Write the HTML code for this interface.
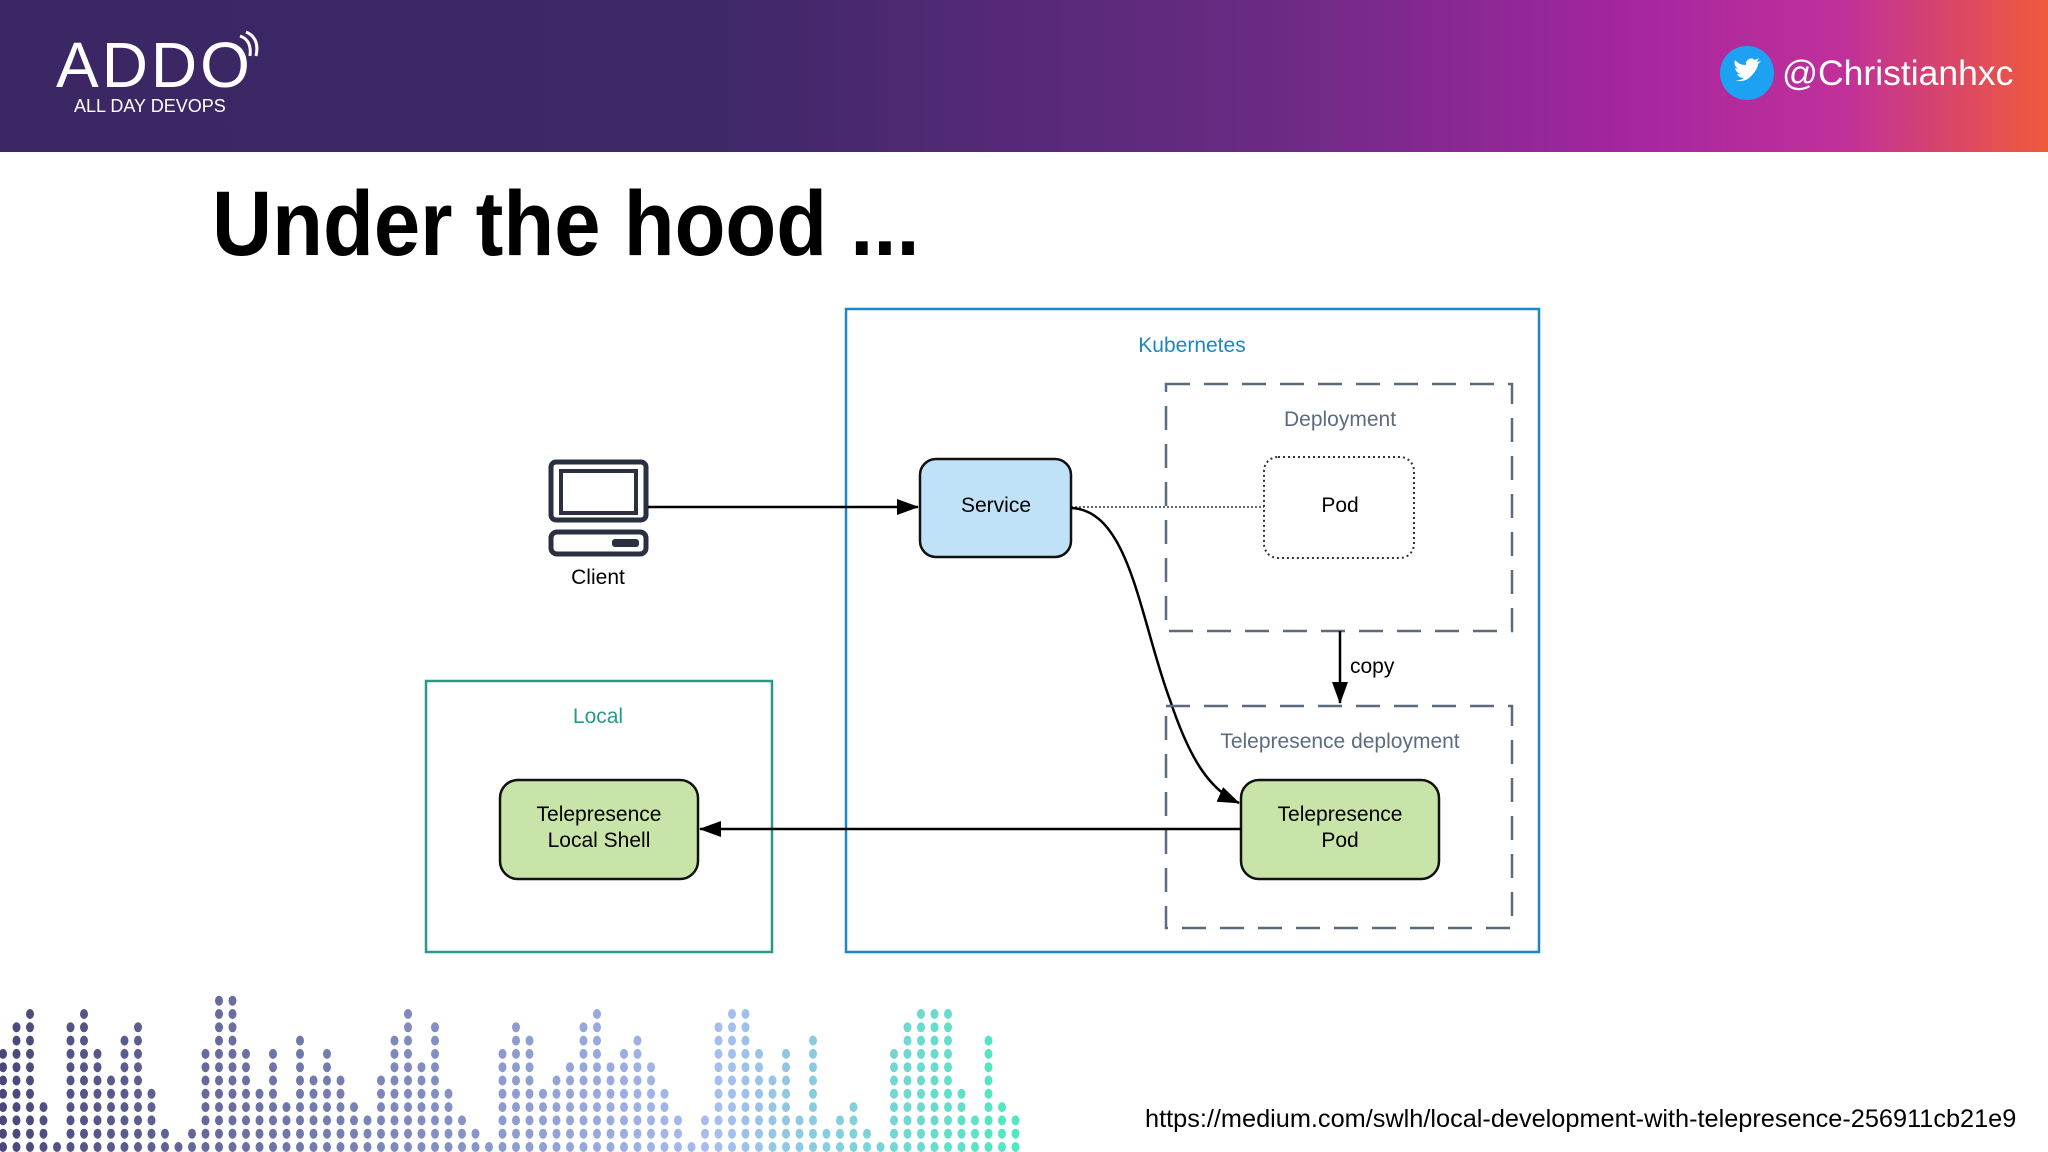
<!DOCTYPE html>
<html><head><meta charset="utf-8"><style>
html,body{margin:0;padding:0;background:#fff}
body{width:2048px;height:1152px;position:relative;overflow:hidden;font-family:"Liberation Sans",sans-serif}
.hdr{position:absolute;left:0;top:0;width:2048px;height:152px;background:linear-gradient(90deg,#3b2764 0%,#3e2868 35%,#6a2a84 62%,#a626a0 80%,#c0309a 90%,#f05a3c 100%)}
.t{position:absolute;white-space:nowrap}
</style></head><body>
<div class="hdr"></div>
<div class="t" style="left:56px;top:28px;color:#fff;font-size:64px;letter-spacing:3px;font-weight:300">ADDO</div>
<svg style="position:absolute;left:236px;top:30px" width="30" height="30"><path d="M4 6 Q16 10 14 26" stroke="#fff" stroke-width="3" fill="none"/><path d="M10 2 Q24 8 20 26" stroke="#fff" stroke-width="3" fill="none"/></svg>
<div class="t" style="left:74px;top:96px;color:#fff;font-size:18px">ALL DAY DEVOPS</div>
<svg style="position:absolute;left:1718px;top:44px" width="58" height="58"><circle cx="29" cy="29" r="27" fill="#1da1f2"/><path d="M17 36 Q27 40 35 30 Q40 24 40 20 L43 17 L39 18 L41 14 L37 16 Q32 12 28 18 L28 21 Q21 21 17 16 Q15 21 20 25 L17 24 Q18 29 23 30 L19 30 Q21 34 26 34 Q22 37 17 36Z" fill="#fff"/></svg>
<div class="t" style="left:1782px;top:53px;color:#fff;font-size:35.5px">@Christianhxc</div>
<div class="t" style="left:212px;top:172px;color:#000;font-size:92px;font-weight:bold;transform:scaleX(0.905);transform-origin:0 0">Under the hood ...</div>

<svg style="position:absolute;left:0;top:0" width="2048" height="1152">
<defs><marker id="ah2" markerWidth="22" markerHeight="16" refX="21" refY="8" orient="auto" markerUnits="userSpaceOnUse"><path d="M0 0 L22 8 L0 16Z" fill="#000"/></marker></defs>
<rect x="846" y="309" width="693" height="643" fill="none" stroke="#1e87c2" stroke-width="2.5"/>
<text x="1192" y="352" font-size="21" fill="#1e87c2" text-anchor="middle" font-family="Liberation Sans">Kubernetes</text>
<rect x="1166" y="384" width="346" height="247" fill="none" stroke="#5c6c80" stroke-width="2.5" stroke-dasharray="24 14"/>
<text x="1340" y="426" font-size="21" fill="#5c6c80" text-anchor="middle" font-family="Liberation Sans">Deployment</text>
<rect x="1264" y="457" width="150" height="101" rx="14" fill="#fff" stroke="#333" stroke-width="2" stroke-dasharray="2 3"/>
<text x="1340" y="512" font-size="21" text-anchor="middle" font-family="Liberation Sans">Pod</text>
<line x1="1071" y1="507" x2="1264" y2="507" stroke="#333" stroke-width="1.5" stroke-dasharray="2 2"/>
<rect x="920" y="459" width="151" height="98" rx="16" fill="#c0e2f6" stroke="#111" stroke-width="2.5"/>
<text x="996" y="512" font-size="21" text-anchor="middle" font-family="Liberation Sans">Service</text>
<rect x="551" y="462" width="95" height="58" rx="5" fill="none" stroke="#2a3040" stroke-width="5"/>
<rect x="561" y="471" width="75" height="42" fill="none" stroke="#2a3040" stroke-width="4"/>
<rect x="551" y="532" width="95" height="22" rx="6" fill="none" stroke="#2a3040" stroke-width="5"/>
<rect x="612" y="539" width="27" height="8" rx="3" fill="#2a3040"/>
<text x="598" y="584" font-size="21" text-anchor="middle" font-family="Liberation Sans">Client</text>
<line x1="648" y1="507" x2="918" y2="507" stroke="#000" stroke-width="2.5" marker-end="url(#ah2)"/>
<path d="M1071 508 C1130 510 1140 620 1170 700 C1190 760 1210 790 1239 803" fill="none" stroke="#000" stroke-width="2.5" marker-end="url(#ah2)"/>
<line x1="1340" y1="631" x2="1340" y2="703" stroke="#000" stroke-width="2.5" marker-end="url(#ah2)"/>
<text x="1350" y="673" font-size="21" font-family="Liberation Sans">copy</text>
<rect x="1166" y="706" width="346" height="222" fill="none" stroke="#5c6c80" stroke-width="2.5" stroke-dasharray="24 14"/>
<text x="1340" y="748" font-size="21" fill="#5c6c80" text-anchor="middle" font-family="Liberation Sans">Telepresence deployment</text>
<rect x="1241" y="780" width="198" height="99" rx="18" fill="#c8e4a8" stroke="#111" stroke-width="2.5"/>
<text x="1340" y="821" font-size="21" text-anchor="middle" font-family="Liberation Sans">Telepresence</text>
<text x="1340" y="847" font-size="21" text-anchor="middle" font-family="Liberation Sans">Pod</text>
<rect x="426" y="681" width="346" height="271" fill="none" stroke="#2a9a88" stroke-width="2.5"/>
<text x="598" y="723" font-size="21" fill="#2a9a88" text-anchor="middle" font-family="Liberation Sans">Local</text>
<rect x="500" y="780" width="198" height="99" rx="18" fill="#c8e4a8" stroke="#111" stroke-width="2.5"/>
<text x="599" y="821" font-size="21" text-anchor="middle" font-family="Liberation Sans">Telepresence</text>
<text x="599" y="847" font-size="21" text-anchor="middle" font-family="Liberation Sans">Local Shell</text>
<line x1="1241" y1="829" x2="700" y2="829" stroke="#000" stroke-width="2.5" marker-end="url(#ah2)"/>
<g id="dots"></g>
</svg>
<div class="t" style="left:1145px;top:1105px;font-size:25.3px;color:#000">https://medium.com/swlh/local-development-with-telepresence-256911cb21e9</div>
<script>
var h=[8,10,11,4,1,10,11,8,6,9,10,5,2,1,2,8,12,12,8,5,8,4,9,6,8,6,4,3,6,9,11,7,10,5,3,2,1,8,10,9,5,6,7,10,11,7,8,9,7,5,3,1,3,10,11,11,8,6,8,3,9,2,3,4,2,1,8,10,11,11,11,5,3,9,4,3];
var g=document.getElementById('dots'),s='';
function lerp(a,b,t){return a.map(function(v,i){return Math.round(v+(b[i]-v)*t)})}
var c0=[74,72,122],c1=[168,188,240],c2=[80,232,192];
for(var i=0;i<h.length;i++){var x=3+i*13.5,t=i/(h.length-1);var c=t<0.7?lerp(c0,c1,t/0.7):lerp(c1,c2,(t-0.7)/0.3);
for(var r=0;r<h[i];r++){var y=1147-r*13.3;s+='<ellipse cx="'+x.toFixed(1)+'" cy="'+y.toFixed(1)+'" rx="4" ry="5" fill="rgb('+c.join(',')+')"/>';}}
g.innerHTML=s;
</script>
</body></html>
